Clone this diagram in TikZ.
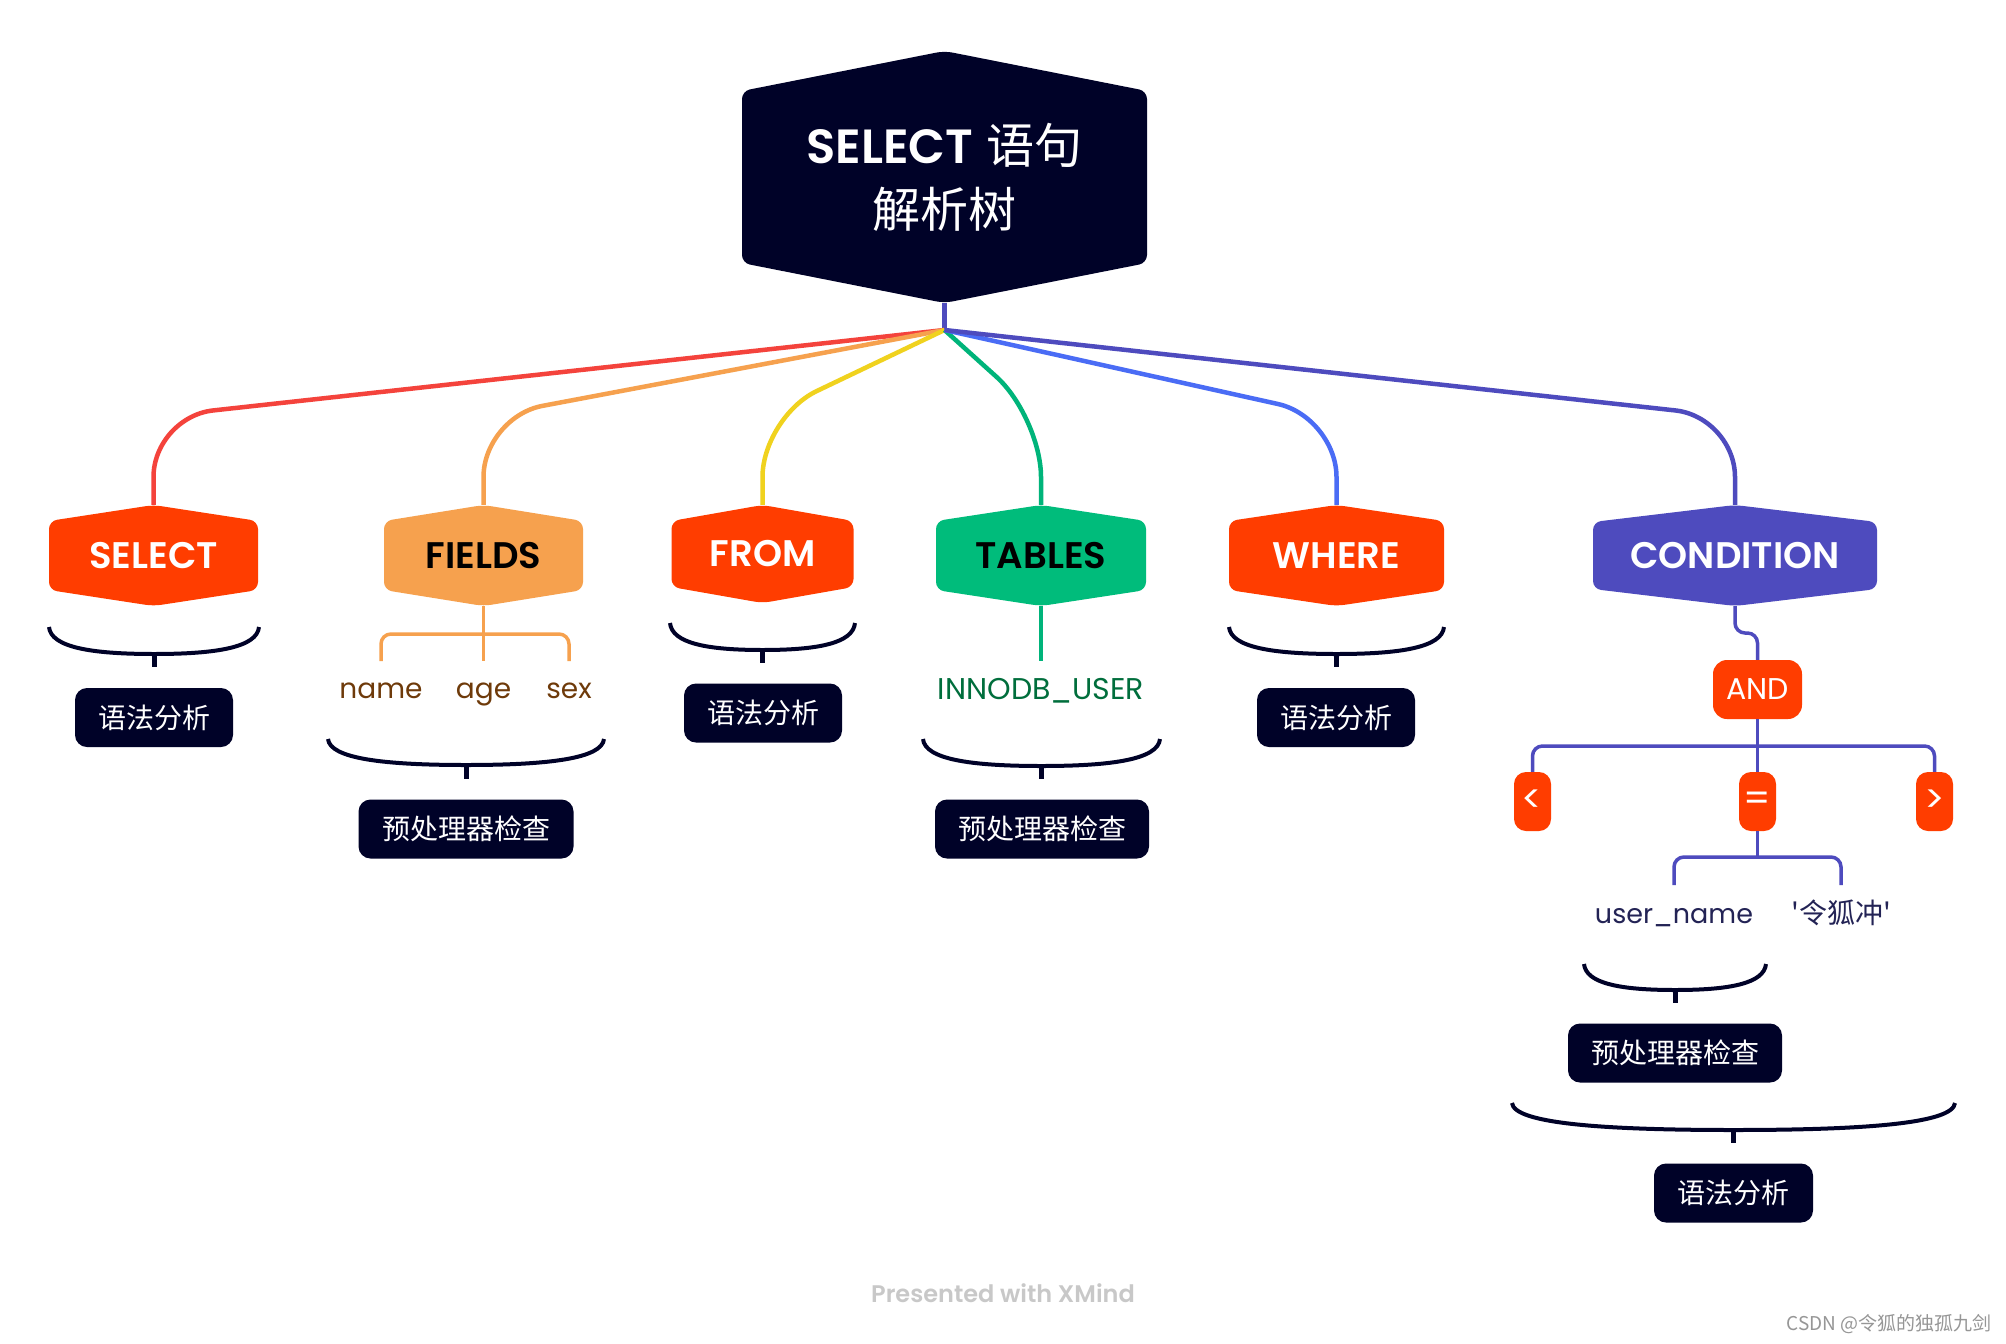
\documentclass[tikz,border=0pt]{standalone}
\usepackage{fontspec}
\setmainfont{Poppins}[BoldFont={Poppins SemiBold}]
\newfontfamily\cjk{Noto Sans CJK SC}
\usetikzlibrary{calc}
\definecolor{navy}{RGB}{0,2,40}
\definecolor{hot}{RGB}{255,61,0}
\definecolor{fieldc}{RGB}{246,161,78}
\definecolor{tablec}{RGB}{0,188,123}
\definecolor{condc}{RGB}{78,75,190}
\definecolor{brred}{RGB}{244,67,60}
\definecolor{brorange}{RGB}{246,161,78}
\definecolor{bryellow}{RGB}{240,210,30}
\definecolor{brgreen}{RGB}{0,180,122}
\definecolor{brblue}{RGB}{74,108,245}
\definecolor{browntext}{RGB}{110,58,10}
\definecolor{greentext}{RGB}{0,110,60}
\definecolor{condtext}{RGB}{35,35,85}
\definecolor{footgray}{RGB}{200,200,200}
\definecolor{markgray}{RGB}{150,150,150}
\newcommand\sumbrace[5]{%
  \draw[navy, line width=4pt] (#1,#3) .. controls (#1+2,{#3+0.75*(#4-#3)}) and ({#1+0.2*(#2-#1)},#4) .. ({(#1+#2)/2},#4) .. controls ({#2-0.2*(#2-#1)},#4) and (#2-2,{#3+0.75*(#4-#3)}) .. (#2,#3);
  \draw[navy, line width=5pt] ({(#1+#2)/2},#4) -- ({(#1+#2)/2},#5);
}
\begin{document}
\begin{tikzpicture}[x=1pt,y=-1pt,
  hexa/.style 2 args={inner sep=0pt, path picture={\fill[#1,rounded corners=8pt]
     (path picture bounding box.north) -- ([yshift=-#2]path picture bounding box.north east)
     -- ([yshift=#2]path picture bounding box.south east) -- (path picture bounding box.south)
     -- ([yshift=#2]path picture bounding box.south west) -- ([yshift=-#2]path picture bounding box.north west) -- cycle;}},
  hexchild/.style={minimum height=101pt, font=\bfseries\fontsize{37}{40}\selectfont},
  navybox/.style={fill=navy, rounded corners=12pt, text=white, inner sep=0pt,
     minimum width=#1, minimum height=59pt, font=\cjk\fontsize{28}{30}\selectfont},
  opbox/.style={fill=hot, rounded corners=12pt, text=white, inner sep=0pt,
     minimum width=37pt, minimum height=59pt, font=\fontsize{38}{40}\selectfont},
  lbl/.style={anchor=base, inner sep=0pt, font=\fontsize{28}{30}\selectfont},
  branch/.style={line width=4.5pt, rounded corners=60pt},
  sub/.style={line width=3.5pt}
]
\useasboundingbox (0,0) rectangle (2006,1344);
\fill[white] (0,0) rectangle (2006,1344);

% root
\node[hexa={navy}{40pt}, minimum width=405pt, minimum height=252pt, text=white, align=center,
      font=\fontsize{48}{64}\selectfont] (root) at (944.5,177)
      {{\bfseries SELECT} {\cjk 语句}\\{\cjk 解析树}};
\coordinate (o) at (944.5,330);

% children
\node[hexa={hot}{16pt}, hexchild, minimum width=209pt, text=white] (sel) at (153.5,555.5) {SELECT};
\node[hexa={fieldc}{16pt}, hexchild, minimum width=199pt, text=black] (fld) at (483.5,555.5) {FIELDS};
\node[hexa={hot}{16pt}, hexchild, minimum width=182pt, minimum height=98pt, text=white] (frm) at (762.5,554) {FROM};
\node[hexa={tablec}{16pt}, hexchild, minimum width=210pt, text=black] (tbl) at (1041,555.5) {TABLES};
\node[hexa={hot}{16pt}, hexchild, minimum width=215pt, text=white] (whr) at (1336.5,555.5) {WHERE};
\node[hexa={condc}{17pt}, hexchild, minimum width=284pt, text=white] (cnd) at (1735,555.5) {CONDITION};

% branches
\draw[condc, line width=4.5pt] (root.south) -- (o);
\draw[branch, brred] (o) -- (sel.north |- 0,417) -- (sel.north);
\draw[branch, brorange] (o) -- (fld.north |- 0,417) -- (fld.north);
\draw[branch, bryellow] (o) -- (frm.north |- 0,417) -- (frm.north);
\draw[branch, brgreen] (o) -- (tbl.north |- 0,417) -- (tbl.north);
\draw[branch, brblue] (o) -- (whr.north |- 0,417) -- (whr.north);
\draw[branch, condc] (o) -- (cnd.north |- 0,417) -- (cnd.north);

% SELECT
\sumbrace{49}{259}{627}{654}{667}
\node[navybox=158pt] (selb) at (154,717.5) {语法分析};

% FIELDS
\node[lbl, text=browntext] (nm) at (381,698) {name};
\node[lbl, text=browntext] (ag) at (483.5,698) {age};
\node[lbl, text=browntext] (sx) at (569,698) {sex};
\draw[sub, brorange] (fld.south) -- (ag.center |- 0,661);
\draw[sub, brorange, rounded corners=10pt] (nm.center |- 0,661) -- (nm.center |- 0,634) -- (sx.center |- 0,634) -- (sx.center |- 0,661);
\sumbrace{328}{604}{739}{765}{779}
\node[navybox=215pt] (fldb) at (466,829) {预处理器检查};

% FROM
\sumbrace{670}{855}{623}{650}{663}
\node[navybox=158pt] (frmb) at (763,713) {语法分析};

% TABLES
\node[lbl, text=greentext, font=\fontsize{30}{32}\selectfont] (inno) at (1041,699) {INNODB\_USER};
\draw[sub, brgreen] (tbl.south) -- (tbl.south |- 0,661);
\sumbrace{923}{1160}{739}{766}{779}
\node[navybox=214pt] (tblb) at (1042,829) {预处理器检查};

% WHERE
\sumbrace{1229}{1444}{627}{654}{667}
\node[navybox=158pt] (whrb) at (1336,717.5) {语法分析};

% CONDITION
\node[fill=hot, rounded corners=14pt, text=white, inner sep=0pt, minimum width=89pt, minimum height=59pt,
      font=\fontsize{30}{32}\selectfont] (and) at (1757.5,689.5) {AND};
\draw[sub, condc, rounded corners=10pt] (cnd.south) -- (cnd.south |- 0,633) -- (and.north |- 0,633) -- (and.north);
\node[opbox] (lt) at (1532.5,801.5) {<};
\node[opbox] (eq) at (1757.5,801.5) {=};
\node[opbox] (gt) at (1934.5,801.5) {>};
\draw[sub, condc] (and.south) -- (eq.north);
\draw[sub, condc, rounded corners=10pt] (lt.north) -- (lt.north |- 0,746) -- (gt.north |- 0,746) -- (gt.north);
\node[lbl, text=condtext, font=\fontsize{27}{29}\selectfont] (un) at (1674,923) {user\_name};
\node[lbl, text=condtext, font=\cjk\fontsize{28}{30}\selectfont] (lhc) at (1841,923) {'令狐冲'};
\draw[sub, condc] (eq.south) -- (eq.south |- 0,857);
\draw[sub, condc, rounded corners=10pt] (un.center |- 0,885) -- (un.center |- 0,857) -- (lhc.center |- 0,857) -- (lhc.center |- 0,885);
\sumbrace{1584}{1766}{964}{990}{1003}
\node[navybox=214pt] (unb) at (1675,1053) {预处理器检查};
\sumbrace{1512}{1955}{1103}{1130}{1143}
\node[navybox=159pt] (cndb) at (1733.5,1193) {语法分析};

% footer
\node[text=footgray, font=\bfseries\fontsize{24}{26}\selectfont] (foot) at (1003,1293) {Presented with XMind};
\node[anchor=east, inner sep=0pt, text=markgray, font=\cjk\fontsize{19}{21}\selectfont] (mark) at (1992,1324) {CSDN @令狐的独孤九剑};
\end{tikzpicture}
\end{document}
